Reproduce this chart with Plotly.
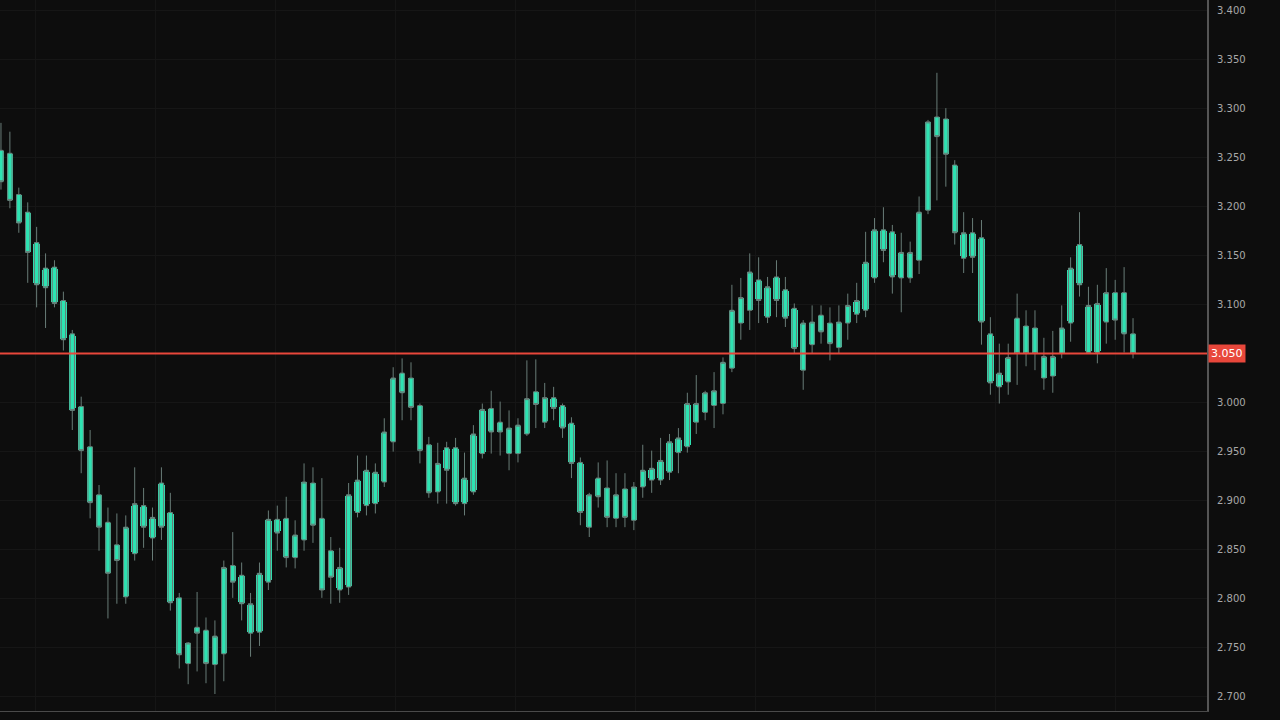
import plotly.graph_objects as go

# ---------------- data ----------------
opens = [3.257,3.254,3.212,3.194,3.163,3.137,3.138,3.104,3.070,2.996,
         2.955,2.906,2.878,2.855,2.802,2.846,2.895,2.862,2.918,2.888,
         2.801,2.734,2.771,2.768,2.733,2.744,2.834,2.824,2.765,2.766,
         2.817,2.881,2.882,2.842,2.860,2.918,2.882,2.849,2.809,2.812,
         2.888,2.895,2.897,2.919,2.960,3.030,3.025,2.997,2.957,2.909,
         2.954,2.954,2.897,2.909,2.948,2.994,2.980,2.948,2.948,2.968,
         3.011,2.980,3.005,2.997,2.979,2.939,2.873,2.923,2.913,2.882,
         2.912,2.880,2.914,2.921,2.921,2.929,2.949,2.955,2.980,2.990,
         2.997,2.999,3.035,3.081,3.094,3.125,3.087,3.128,3.115,3.096,
         3.033,3.059,3.089,3.081,3.056,3.081,3.090,3.094,3.127,3.176,
         3.174,3.127,3.127,3.145,3.196,3.291,3.289,3.242,3.147,3.173,
         3.168,3.070,3.016,3.021,3.086,3.078,3.076,3.025,3.027,3.050,
         3.081,3.161,3.051,3.051,3.082,3.112,3.112,3.070]
closes = [3.225,3.206,3.183,3.153,3.120,3.117,3.101,3.064,2.992,2.951,
          2.898,2.873,2.826,2.839,2.873,2.897,2.873,2.883,2.873,2.796,
          2.743,2.755,2.765,2.734,2.762,2.832,2.817,2.795,2.795,2.826,
          2.881,2.867,2.842,2.865,2.919,2.875,2.809,2.822,2.832,2.906,
          2.921,2.931,2.929,2.970,3.025,3.010,2.995,2.951,2.908,2.938,
          2.931,2.897,2.923,2.968,2.993,2.970,2.970,2.974,2.977,3.004,
          2.998,3.005,2.994,2.974,2.938,2.888,2.906,2.904,2.883,2.906,
          2.883,2.914,2.931,2.933,2.941,2.960,2.964,2.999,2.999,3.010,
          3.012,3.041,3.094,3.107,3.133,3.104,3.118,3.104,3.086,3.055,
          3.081,3.082,3.072,3.060,3.082,3.099,3.104,3.143,3.176,3.155,
          3.128,3.153,3.153,3.194,3.286,3.271,3.253,3.173,3.173,3.148,
          3.082,3.020,3.030,3.046,3.050,3.050,3.050,3.047,3.047,3.076,
          3.137,3.120,3.099,3.101,3.112,3.084,3.070,3.050]
highs = [3.285,3.276,3.219,3.204,3.179,3.152,3.145,3.113,3.074,3.006,
         2.972,2.916,2.893,2.887,2.885,2.934,2.913,2.893,2.934,2.908,
         2.806,2.756,2.807,2.781,2.778,2.839,2.868,2.837,2.806,2.837,
         2.890,2.895,2.904,2.880,2.938,2.934,2.923,2.863,2.852,2.918,
         2.946,2.946,2.938,2.984,3.036,3.045,3.041,2.999,2.965,2.959,
         2.960,2.964,2.949,2.977,2.999,3.012,3.001,2.992,2.984,3.043,
         3.044,3.020,3.016,2.999,2.985,2.944,2.908,2.939,2.941,2.928,
         2.928,2.919,2.957,2.951,2.964,2.968,2.974,3.010,3.028,3.012,
         3.031,3.046,3.120,3.127,3.152,3.148,3.128,3.145,3.128,3.101,
         3.084,3.099,3.099,3.097,3.099,3.111,3.122,3.174,3.188,3.199,
         3.181,3.173,3.164,3.210,3.288,3.336,3.300,3.247,3.194,3.188,
         3.186,3.087,3.060,3.060,3.111,3.094,3.094,3.066,3.073,3.099,
         3.148,3.194,3.118,3.120,3.137,3.125,3.138,3.086]
lows = [3.217,3.198,3.173,3.122,3.097,3.076,3.097,3.053,2.972,2.928,
        2.882,2.849,2.780,2.795,2.795,2.839,2.852,2.839,2.860,2.788,
        2.729,2.713,2.726,2.714,2.703,2.716,2.801,2.778,2.741,2.752,
        2.809,2.849,2.832,2.831,2.849,2.857,2.801,2.795,2.796,2.804,
        2.883,2.885,2.887,2.914,2.950,2.982,2.982,2.938,2.903,2.897,
        2.897,2.895,2.885,2.906,2.943,2.948,2.946,2.931,2.939,2.966,
        2.974,2.974,2.982,2.964,2.923,2.875,2.863,2.893,2.873,2.873,
        2.873,2.870,2.903,2.908,2.916,2.921,2.928,2.949,2.968,2.982,
        2.974,2.988,3.031,3.064,3.074,3.081,3.081,3.087,3.077,3.050,
        3.013,3.050,3.060,3.043,3.050,3.064,3.081,3.087,3.122,3.143,
        3.111,3.092,3.122,3.131,3.192,3.206,3.220,3.161,3.132,3.132,
        3.059,3.008,2.999,3.008,3.018,3.037,3.033,3.013,3.010,3.045,
        3.062,3.108,3.050,3.040,3.060,3.064,3.051,3.045]
tick_values = [3.40, 3.35, 3.30, 3.25, 3.20, 3.15, 3.10,
               3.00, 2.95, 2.90, 2.85, 2.80, 2.75, 2.70]
last_price = closes[-1]

# ---------------- styles ----------------
BG = "#0d0d0d"
BODY = "#2de3b2"
WICK = "#687c77"
RED = "#e8473b"

idx = list(range(len(opens)))
body_base = [min(o, c) for o, c in zip(opens, closes)]
body_len = [abs(c - o) for o, c in zip(opens, closes)]

fig = go.Figure()
fig.add_trace(go.Candlestick(
    x=idx, open=opens, high=highs, low=lows, close=closes,
    increasing=dict(line=dict(color=WICK, width=1), fillcolor=BODY),
    decreasing=dict(line=dict(color=WICK, width=1), fillcolor=BODY),
    whiskerwidth=0, showlegend=False, hoverinfo="skip",
))
fig.add_trace(go.Bar(
    x=idx, y=body_len, base=body_base, width=0.72,
    marker=dict(color=BODY, line=dict(width=0), cornerradius=2),
    showlegend=False, hoverinfo="skip",
))

fig.add_shape(type="line", xref="paper", x0=0, x1=1, yref="y",
              y0=last_price, y1=last_price,
              line=dict(color=RED, width=2), layer="above")
fig.add_annotation(xref="paper", x=1, xanchor="left", xshift=1,
                   yref="y", y=last_price, yanchor="middle",
                   text=f"{last_price:.3f}", showarrow=False,
                   bgcolor=RED, borderpad=2,
                   font=dict(color="#ffffff", size=11, family="DejaVu Sans"))

fig.update_layout(
    width=1280, height=720,
    paper_bgcolor=BG, plot_bgcolor=BG,
    margin=dict(l=0, r=73, t=0, b=9),
    barmode="overlay",
    bargap=0,
    hovermode=False,
    xaxis=dict(range=[-0.11, 135.3], rangeslider=dict(visible=False),
               showticklabels=False, ticks="",
               showgrid=True, gridcolor="#151515", gridwidth=1,
               tick0=17.3, dtick=13.47,
               showline=True, linecolor="#4a4a4a", linewidth=1,
               zeroline=False, fixedrange=True),
    yaxis=dict(side="right", range=[2.6857, 3.4102],
               tickvals=tick_values, tickformat=".3f",
               ticks="", ticklabelstandoff=6,
               tickfont=dict(color="#a8a8a8", size=10, family="DejaVu Sans"),
               showgrid=True, gridcolor="#161616", gridwidth=1,
               showline=True, linecolor="#555555", linewidth=2,
               zeroline=False, fixedrange=True),
)

fig.write_html(
    "out.html",
    config={"displayModeBar": False, "staticPlot": True},
    post_script="document.body.style.margin='0';document.body.style.background='#0d0d0d';",
)
